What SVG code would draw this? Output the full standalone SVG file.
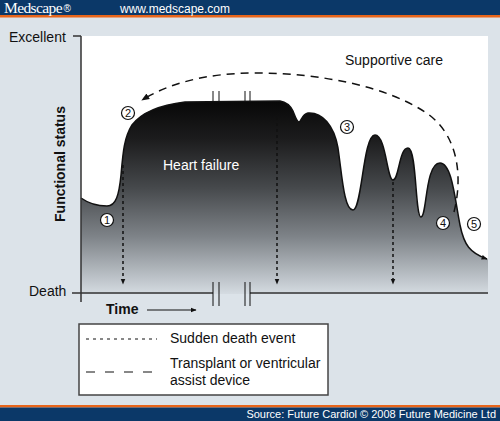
<svg xmlns="http://www.w3.org/2000/svg" width="500" height="421" viewBox="0 0 500 421">
<defs>
<style>
.t{font-family:"Liberation Sans",Arial,sans-serif;font-size:14px;fill:#111}
.b{font-weight:bold}
.ax{stroke:#333;stroke-width:1.5;fill:none}
.brk{stroke:#111;stroke-width:1;fill:none}
.sd{stroke:#111;stroke-width:1.5;stroke-dasharray:3,3;fill:none}
.num{fill:#fff;stroke:#111;stroke-width:1.2}
.nt{font-family:"Liberation Sans",Arial,sans-serif;font-size:11px;fill:#111;text-anchor:middle}
</style>
<linearGradient id="g" gradientUnits="userSpaceOnUse" x1="0" y1="100" x2="0" y2="295">
<stop offset="0" stop-color="#070707"/>
<stop offset="0.2" stop-color="#1c1c1d"/>
<stop offset="0.45" stop-color="#46494c"/>
<stop offset="0.7" stop-color="#7e8388"/>
<stop offset="1" stop-color="#d6dde3"/>
</linearGradient>
<marker id="ah" viewBox="0 0 10 10" refX="9" refY="5" markerWidth="6" markerHeight="6" orient="auto" markerUnits="userSpaceOnUse"><path d="M0,1 L10,5 L0,9 Z" fill="#111"/></marker>
<marker id="ah2" viewBox="0 0 10 10" refX="9" refY="5" markerWidth="8" markerHeight="8" orient="auto" markerUnits="userSpaceOnUse"><path d="M0,1 L10,5 L0,9 Z" fill="#111"/></marker>
</defs>
<rect width="500" height="421" fill="#dce3e9"/>
<g id="header">
<rect x="0" y="0" width="500" height="15" fill="#0b3868"/>
<rect x="0" y="15" width="500" height="2.5" fill="#e8651a"/>
<text x="4" y="13" font-family="Liberation Serif,serif" font-size="15.5" fill="#fff" letter-spacing="-0.6">Medscape<tspan font-family="Liberation Sans,sans-serif" font-size="10" letter-spacing="0" dx="1.5" dy="-1">®</tspan></text>
<text x="120" y="13" font-family="Liberation Sans,Arial,sans-serif" font-size="12" fill="#fff">www.medscape.com</text>
</g>
<g id="footer">
<rect x="0" y="405" width="500" height="2.5" fill="#e8651a"/>
<rect x="0" y="407.5" width="500" height="14" fill="#0b3868"/>
<text x="496" y="418" text-anchor="end" font-family="Liberation Sans,Arial,sans-serif" font-size="11" fill="#fff">Source: Future Cardiol © 2008 Future Medicine Ltd</text>
</g>
<g id="plot">
<rect x="81" y="36" width="407" height="258" fill="#fff"/>
<path id="curve" d="M81,198 C88,203 98,206 107,206 C116,206 119,195 121,175 C123,152 124,138 132,125 C142,112 160,105 185,102 L280,101 C286,102 290,105 293,111 C295,116 297,122 299,122 C301,122 302,114 308,113 C322,112 334,125 338,148 C342,175 344,210 353,210 C362,210 363,135 375,135 C386,135 387,180 393,180 C399,180 399,148 408,148 C417,148 415,217 421,217 C427,217 425,163 440,163 C452,163 455,200 460,225 C464,245 470,253 488,259 L488,294 L81,294 Z" fill="url(#g)"/>
<path d="M81,198 C88,203 98,206 107,206 C116,206 119,195 121,175 C123,152 124,138 132,125 C142,112 160,105 185,102 L280,101 C286,102 290,105 293,111 C295,116 297,122 299,122 C301,122 302,114 308,113 C322,112 334,125 338,148 C342,175 344,210 353,210 C362,210 363,135 375,135 C386,135 387,180 393,180 C399,180 399,148 408,148 C417,148 415,217 421,217 C427,217 425,163 440,163 C452,163 455,200 460,225 C464,245 470,253 487,259" fill="none" stroke="#111" stroke-width="1.5" marker-end="url(#ah)"/>
</g>
<g id="axes">
<path class="ax" d="M81,36 V302 M73,36 H81 M72,293 H213 M250,293 H488"/>
<path class="brk" d="M213,282 V306 M219,282 V306 M245,282 V306 M250,282 V306"/>
<path class="brk" d="M213,91 V101 M219,91 V101 M245,91 V101 M250,91 V101"/>
<path class="brk" stroke-width="1.2" d="M147,310 H196" marker-end="url(#ah)"/>
</g>
<g id="connectors">
<path class="sd" d="M123,165 V284" marker-end="url(#ah)"/>
<path class="sd" d="M277,117 V284" marker-end="url(#ah)"/>
<path class="sd" d="M393,182 V284" marker-end="url(#ah)"/>
<path d="M454,212 C464,172 456,132 425,112 C385,86 320,73 255,73 C205,73 168,84 142,100" fill="none" stroke="#111" stroke-width="1.5" stroke-dasharray="8,6" marker-end="url(#ah2)"/>
</g>
<g id="labels">
<text class="t" x="9" y="42">Excellent</text>
<text class="t" x="29" y="296">Death</text>
<text class="t b" transform="translate(65,164) rotate(-90)" text-anchor="middle">Functional status</text>
<text class="t b" x="106" y="314">Time</text>
<text class="t" x="163" y="170" style="fill:#fff">Heart failure</text>
<text class="t" x="345" y="65">Supportive care</text>
</g>
<g id="n1"><circle class="num" cx="107" cy="220" r="6.5"/><text class="nt" x="107" y="224">1</text></g>
<g id="n2"><circle class="num" cx="128" cy="113" r="6.5"/><text class="nt" x="128" y="117">2</text></g>
<g id="n3"><circle class="num" cx="347" cy="127" r="6.5"/><text class="nt" x="347" y="131">3</text></g>
<g id="n4"><circle class="num" cx="443" cy="223" r="6.5"/><text class="nt" x="443" y="227">4</text></g>
<g id="n5"><circle class="num" cx="474" cy="224" r="6.5"/><text class="nt" x="474" y="228">5</text></g>
<g id="legend">
<rect x="79" y="324" width="249" height="71" fill="#fff" stroke="#444" stroke-width="1.5"/>
<path d="M86,339 H157" stroke="#111" stroke-width="1" stroke-dasharray="3,4"/>
<path d="M86,372 H157" stroke="#111" stroke-width="1.2" stroke-dasharray="9,10"/>
<text class="t" x="170" y="343">Sudden death event</text>
<text class="t" x="170" y="368">Transplant or ventricular</text>
<text class="t" x="170" y="385">assist device</text>
</g>
</svg>
